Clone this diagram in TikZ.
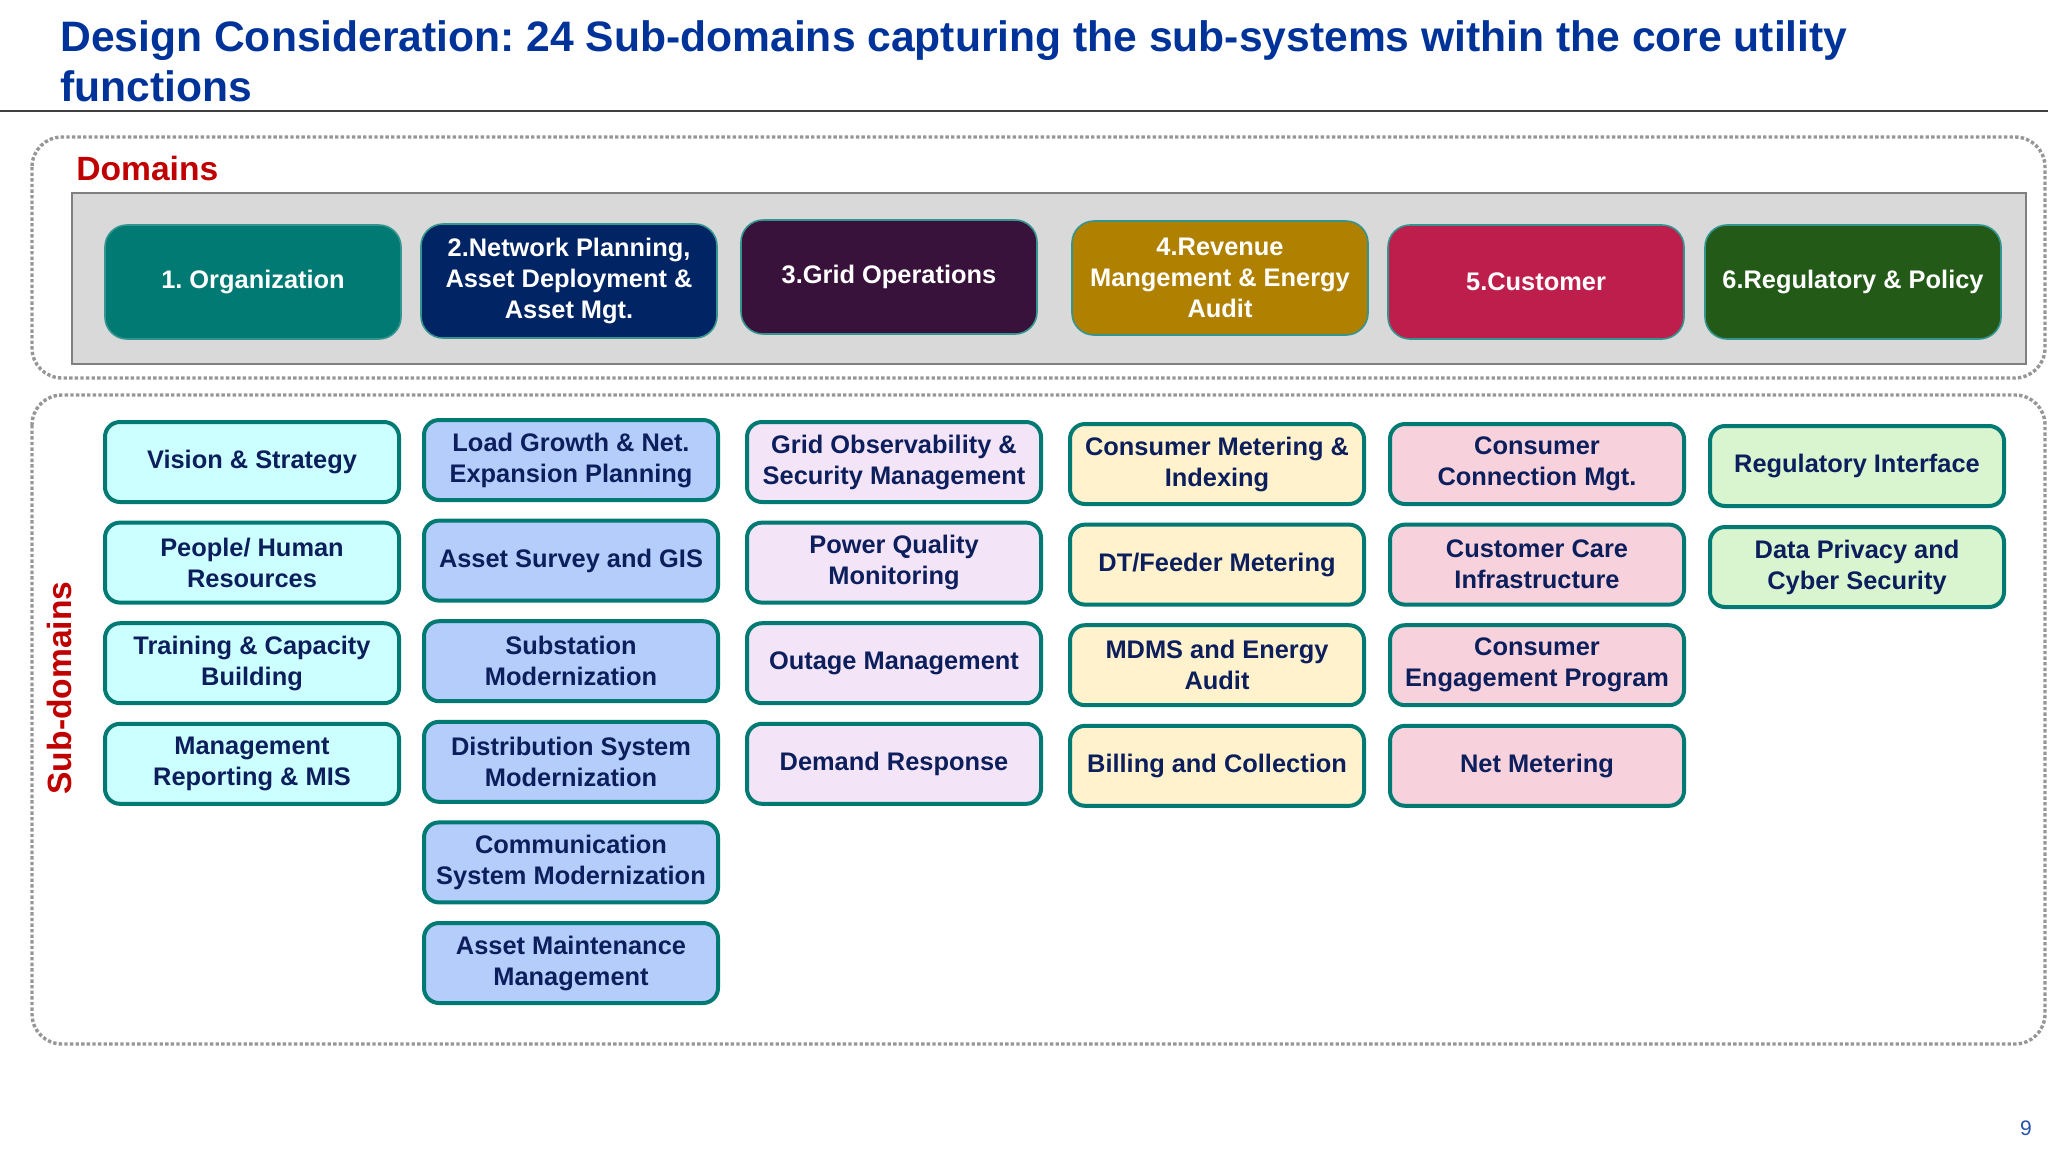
\documentclass[tikz,border=0pt]{standalone}
\usepackage{fontspec}
\setmainfont{Liberation Sans}
\frenchspacing

\definecolor{titleblue}{RGB}{0,51,153}
\definecolor{labelred}{RGB}{192,0,0}
\definecolor{boxteal}{RGB}{0,122,115}
\definecolor{subtext}{RGB}{12,31,92}
\definecolor{framegray}{RGB}{150,150,150}
% domain colours
\definecolor{domA}{RGB}{0,122,115}
\definecolor{domB}{RGB}{0,36,100}
\definecolor{domC}{RGB}{56,18,58}
\definecolor{domD}{RGB}{176,128,0}
\definecolor{domE}{RGB}{190,30,75}
\definecolor{domF}{RGB}{36,90,24}
% sub-domain colours
\definecolor{subA}{RGB}{204,255,255}
\definecolor{subB}{RGB}{180,205,250}
\definecolor{subC}{RGB}{243,228,247}
\definecolor{subD}{RGB}{255,242,204}
\definecolor{subE}{RGB}{247,209,220}
\definecolor{subF}{RGB}{216,245,208}

\begin{document}
\begin{tikzpicture}[x=0.5pt, y=-0.5pt,
    boxfont/.style={font=\fontsize{12.7}{15.5}\selectfont\bfseries},
    domainbox/.style={boxfont, draw=boxteal!80!white, line width=0.8pt, rounded corners=11pt,
        minimum width=148pt, minimum height=57pt, inner sep=2pt, text=white, align=center},
    subbox/.style={boxfont, draw=boxteal, line width=2pt, rounded corners=7.5pt,
        minimum width=147pt, minimum height=40pt, inner sep=2pt, text=subtext, align=center},
    groupframe/.style={draw=framegray, line width=1.7pt, dash pattern=on 1.7pt off 1.1pt, rounded corners=15pt}]
    \useasboundingbox (0,0) rectangle (2048,1152);

    % title and rule
    \node[anchor=base west, inner sep=0pt, text=titleblue, align=left, font=\fontsize{21.3}{25}\selectfont\bfseries] (title) at (60,101)
        {Design Consideration: 24 Sub-domains capturing the sub-systems within the core utility\\functions};
    \draw[line width=1pt, black!75] (0,111) -- (2048,111);

    % dotted frames
    \draw[groupframe] (32,137) rectangle (2045,378);
    \draw[groupframe] (32,395) rectangle (2045,1044);

    % domains row
    \node[anchor=base west, inner sep=0pt, text=labelred, font=\fontsize{16.8}{20}\selectfont\bfseries] (domlabel) at (76,180) {Domains};
    \draw[draw=black!50, line width=0.8pt, fill=black!15] (72,193) rectangle (2026,364);
    \foreach \x/\y/\c/\nm/\txt in {
        253/282/domA/org/{1. Organization},
        569/281/domB/net/{2.Network Planning,\\Asset Deployment \&\\Asset Mgt.},
        889/277/domC/grid/{3.Grid Operations},
        1220/278/domD/rev/{4.Revenue\\Mangement \& Energy\\Audit},
        1536/282/domE/cust/{5.Customer},
        1853/282/domF/reg/{6.Regulatory \& Policy}}
        \node[domainbox, fill=\c] (\nm) at (\x,\y) {\txt};

    % sub-domains
    \node[rotate=90, inner sep=0pt, text=labelred, font=\fontsize{16.8}{20}\selectfont\bfseries] (sublabel) at (59,688) {Sub-domains};
    \foreach \txt [count=\r] in {Vision \& Strategy, People/ Human\\Resources,
        Training \& Capacity\\Building, Management\\Reporting \& MIS}
        \node[subbox, fill=subA] (org-\r) at (252,{462+100.6*(\r-1)}) {\txt};
    \foreach \txt [count=\r] in {Load Growth \& Net.\\Expansion Planning, Asset Survey and GIS,
        Substation\\Modernization, Distribution System\\Modernization,
        Communication\\System Modernization, Asset Maintenance\\Management}
        \node[subbox, fill=subB] (net-\r) at (571,{460+100.6*(\r-1)}) {\txt};
    \foreach \txt [count=\r] in {Grid Observability \&\\Security Management, Power Quality\\Monitoring,
        Outage Management, Demand Response}
        \node[subbox, fill=subC] (grid-\r) at (894,{462+100.6*(\r-1)}) {\txt};
    \foreach \txt [count=\r] in {Consumer Metering \&\\Indexing, DT/Feeder Metering,
        MDMS and Energy\\Audit, Billing and Collection}
        \node[subbox, fill=subD] (rev-\r) at (1217,{464+100.6*(\r-1)}) {\txt};
    \foreach \txt [count=\r] in {Consumer\\Connection Mgt., Customer Care\\Infrastructure,
        Consumer\\Engagement Program, Net Metering}
        \node[subbox, fill=subE] (cust-\r) at (1537,{464+100.6*(\r-1)}) {\txt};
    \foreach \txt [count=\r] in {Regulatory Interface, Data Privacy and\\Cyber Security}
        \node[subbox, fill=subF] (reg-\r) at (1857,{466+101*(\r-1)}) {\txt};

    % page number
    \node[text=titleblue!85, font=\fontsize{10.5}{12}\selectfont] (pagenum) at (2026,1128) {9};
\end{tikzpicture}
\end{document}
